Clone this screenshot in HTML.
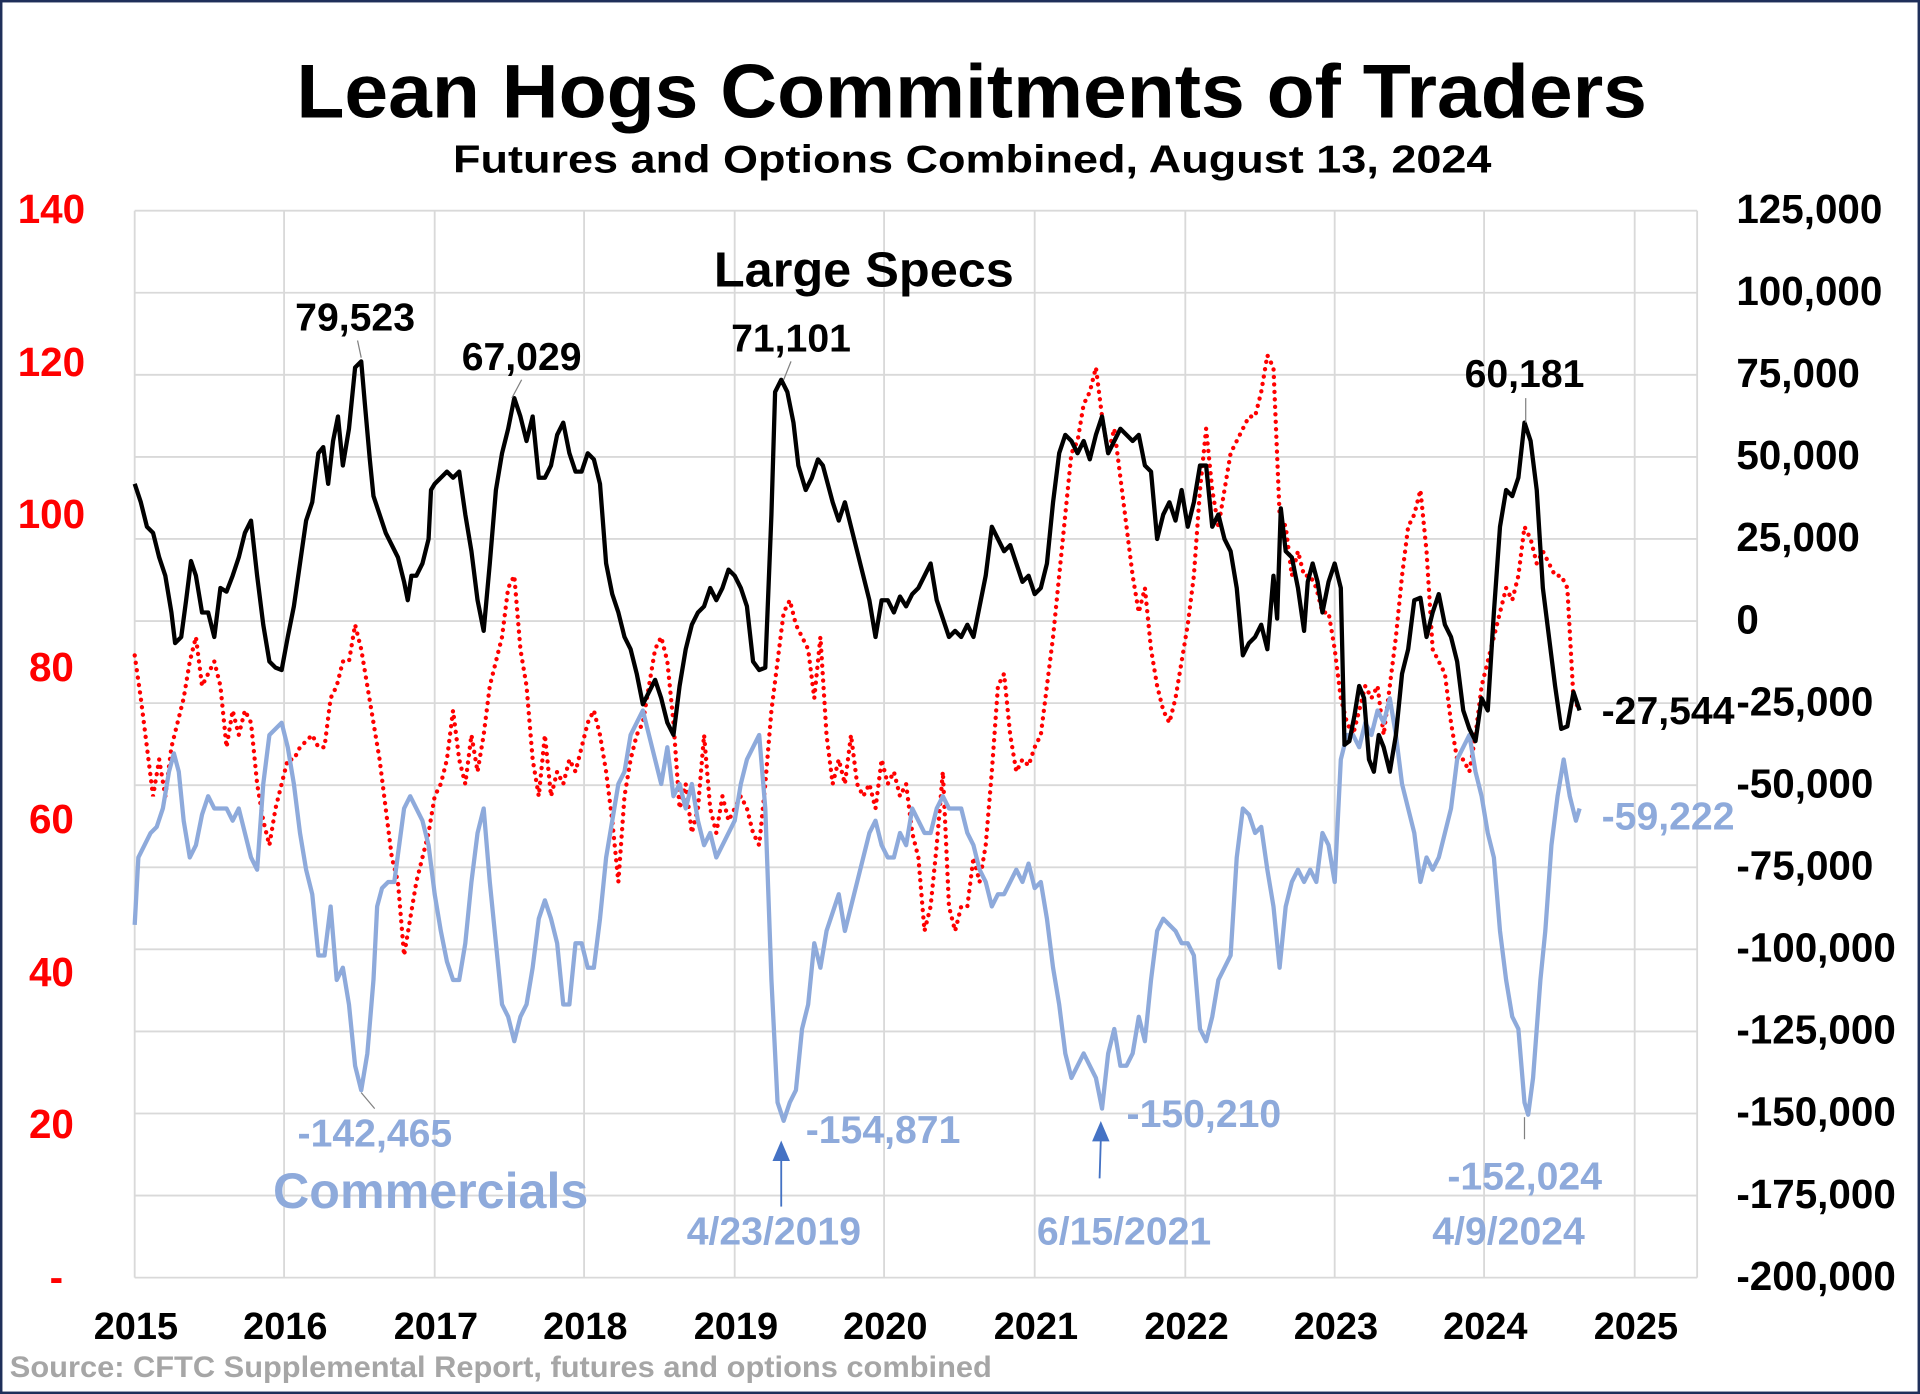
<!DOCTYPE html>
<html><head><meta charset="utf-8"><style>
html,body{margin:0;padding:0;background:#fff}
svg{display:block}
text{font-family:"Liberation Sans",Arial,sans-serif;font-weight:bold}
</style></head><body>
<svg width="1920" height="1394" viewBox="0 0 1568 1138" preserveAspectRatio="none" xmlns="http://www.w3.org/2000/svg">
<rect x="1" y="1" width="1566" height="1136" fill="#fff" stroke="#1f2f5a" stroke-width="2"/>
<text x="242" y="96" font-size="62" textLength="1103" lengthAdjust="spacingAndGlyphs">Lean Hogs Commitments of Traders</text>
<text x="370" y="141" font-size="32" textLength="848" lengthAdjust="spacingAndGlyphs">Futures and Options Combined, August 13, 2024</text>
<g stroke="#d9d9d9" stroke-width="1.5">
<line x1="110" y1="172" x2="1386" y2="172"/><line x1="110" y1="239" x2="1386" y2="239"/><line x1="110" y1="306" x2="1386" y2="306"/><line x1="110" y1="373" x2="1386" y2="373"/><line x1="110" y1="440" x2="1386" y2="440"/><line x1="110" y1="507" x2="1386" y2="507"/><line x1="110" y1="574" x2="1386" y2="574"/><line x1="110" y1="641" x2="1386" y2="641"/><line x1="110" y1="708" x2="1386" y2="708"/><line x1="110" y1="775" x2="1386" y2="775"/><line x1="110" y1="842" x2="1386" y2="842"/><line x1="110" y1="909" x2="1386" y2="909"/><line x1="110" y1="976" x2="1386" y2="976"/><line x1="110" y1="1043" x2="1386" y2="1043"/>
<line x1="110" y1="172" x2="110" y2="1043"/><line x1="232" y1="172" x2="232" y2="1043"/><line x1="355" y1="172" x2="355" y2="1043"/><line x1="477" y1="172" x2="477" y2="1043"/><line x1="600" y1="172" x2="600" y2="1043"/><line x1="722" y1="172" x2="722" y2="1043"/><line x1="845" y1="172" x2="845" y2="1043"/><line x1="968" y1="172" x2="968" y2="1043"/><line x1="1090" y1="172" x2="1090" y2="1043"/><line x1="1212" y1="172" x2="1212" y2="1043"/><line x1="1335" y1="172" x2="1335" y2="1043"/><line x1="1386" y1="172" x2="1386" y2="1043"/>
</g>
<g font-size="33" fill="#ff0000" text-anchor="middle">
<text x="42" y="182">140</text><text x="42" y="307">120</text><text x="42" y="431">100</text><text x="42" y="556">80</text><text x="42" y="680">60</text><text x="42" y="805">40</text><text x="42" y="929">20</text><text x="46" y="1054">-</text>
</g>
<g font-size="33" fill="#000">
<text x="1418" y="182">125,000</text><text x="1418" y="249">100,000</text><text x="1418" y="316">75,000</text><text x="1418" y="383">50,000</text><text x="1418" y="450">25,000</text><text x="1418" y="517">0</text><text x="1418" y="584">-25,000</text><text x="1418" y="651">-50,000</text><text x="1418" y="718">-75,000</text><text x="1418" y="785">-100,000</text><text x="1418" y="852">-125,000</text><text x="1418" y="919">-150,000</text><text x="1418" y="986">-175,000</text><text x="1418" y="1053">-200,000</text>
</g>
<g font-size="31" fill="#000" text-anchor="middle">
<text x="111" y="1093">2015</text><text x="233" y="1093">2016</text><text x="356" y="1093">2017</text><text x="478" y="1093">2018</text><text x="601" y="1093">2019</text><text x="723" y="1093">2020</text><text x="846" y="1093">2021</text><text x="969" y="1093">2022</text><text x="1091" y="1093">2023</text><text x="1213" y="1093">2024</text><text x="1336" y="1093">2025</text>
</g>
<text x="8" y="1124" font-size="24" fill="#a6a6a6" textLength="802" lengthAdjust="spacingAndGlyphs">Source: CFTC Supplemental Report, futures and options combined</text>

<polyline fill="none" stroke="#ff0000" stroke-width="3.5" stroke-dasharray="0.1 6" stroke-linecap="round" points="110,535 115,570 120,610 125,650 130,620 135,650 140,610 145,590 150,570 155,540 160,520 165,560 170,550 175,540 180,560 185,610 190,580 195,600 200,580 205,590 210,640 215,670 220,690 225,660 230,640 235,620 240,620 245,610 250,605 255,600 260,610 265,610 270,570 275,560 280,540 285,540 290,510 295,530 300,560 305,590 310,620 315,660 320,700 325,720 330,780 335,750 340,720 345,700 350,680 355,650 360,640 365,620 370,580 375,620 380,640 385,600 390,630 395,600 400,560 405,540 410,520 415,480 420,470 425,530 430,560 435,620 440,650 445,600 450,650 455,630 460,640 465,620 470,630 475,610 480,590 485,580 490,600 495,630 500,670 505,720 510,650 515,620 520,600 525,590 530,560 535,530 540,520 545,540 550,590 555,660 560,640 565,680 570,660 575,600 580,660 585,680 590,650 595,670 600,660 605,650 610,660 615,680 620,690 625,640 630,580 635,540 640,500 645,490 650,510 655,520 660,530 665,570 670,520 675,600 680,640 685,620 690,640 695,600 700,640 705,650 710,640 715,660 720,620 725,640 730,630 735,650 740,640 745,680 750,700 755,760 760,740 765,690 770,630 775,740 780,760 785,740 790,740 795,700 800,720 805,690 810,630 815,560 820,550 825,600 830,630 835,620 840,625 845,610 850,600 855,560 860,520 865,470 870,420 875,370 880,360 885,330 890,320 895,300 900,340 905,370 910,350 915,390 920,430 925,470 930,500 935,480 940,530 945,560 950,580 955,590 960,570 965,540 970,510 975,470 980,400 985,350 990,400 995,430 1000,400 1005,370 1010,360 1015,350 1020,340 1025,340 1030,320 1035,290 1040,300 1045,420 1050,430 1055,470 1060,450 1065,470 1070,470 1075,480 1080,500 1085,500 1090,530 1095,570 1100,590 1105,600 1110,580 1115,560 1120,570 1125,560 1130,600 1135,560 1140,520 1145,470 1150,430 1155,420 1160,400 1165,450 1170,530 1175,540 1180,550 1185,590 1190,620 1195,620 1200,630 1205,600 1210,560 1215,540 1220,520 1225,500 1230,480 1235,490 1240,470 1245,430 1250,440 1255,460 1260,450 1265,460 1270,470 1275,470 1280,480 1285,570 1290,580"/>

<polyline fill="none" stroke="#8eaadb" stroke-width="3.5" stroke-linejoin="round" points="110,755 113,700 118,690 123,680 128,675 133,660 138,630 142,615 146,630 150,670 155,700 160,690 165,665 170,650 175,660 180,660 185,660 190,670 195,660 200,680 205,700 210,710 215,640 220,600 225,595 230,590 235,610 240,640 245,680 250,710 255,730 260,780 265,780 270,740 275,800 280,790 285,820 290,870 295,890 300,860 305,800 308,740 312,725 317,720 322,720 326,690 330,660 335,650 340,660 345,670 350,690 355,730 360,760 365,785 370,800 375,800 380,770 385,720 390,680 395,660 400,720 405,770 410,820 415,830 420,850 425,830 430,820 435,790 440,750 445,735 450,750 455,770 460,820 465,820 470,770 475,770 480,790 485,790 490,750 495,700 500,670 505,640 510,630 515,600 520,590 525,580 530,600 535,620 540,640 545,610 550,650 555,640 560,660 565,640 570,670 575,690 580,680 585,700 590,690 595,680 600,670 605,640 610,620 615,610 620,600 625,660 630,800 635,900 640,915 645,900 650,890 655,840 660,820 665,770 670,790 675,760 680,745 685,730 690,760 695,740 700,720 705,700 710,680 715,670 720,690 725,700 730,700 735,680 740,690 745,660 750,670 755,680 760,680 765,660 770,650 775,660 780,660 785,660 790,680 795,690 800,710 805,720 810,740 815,730 820,730 825,720 830,710 835,720 840,705 845,725 850,720 855,750 860,790 865,820 870,860 875,880 880,870 885,860 890,870 895,880 900,905 905,860 910,840 915,870 920,870 925,860 930,830 935,850 940,800 945,760 950,750 955,755 960,760 965,770 970,770 975,780 980,840 985,850 990,830 995,800 1000,790 1005,780 1010,700 1015,660 1020,665 1025,680 1030,675 1035,710 1040,740 1045,790 1050,740 1055,720 1060,710 1065,720 1070,710 1075,720 1080,680 1085,690 1090,720 1095,620 1100,600 1105,600 1110,610 1115,590 1120,600 1125,580 1130,590 1135,570 1140,600 1145,640 1150,660 1155,680 1160,720 1165,700 1170,710 1175,700 1180,680 1185,660 1190,620 1195,610 1200,600 1205,630 1210,650 1215,680 1220,700 1225,760 1230,800 1235,830 1240,840 1245,900 1248,910 1252,880 1258,800 1262,760 1267,690 1272,650 1277,620 1282,650 1287,670 1290,660"/>

<polyline fill="none" stroke="#000" stroke-width="3.5" stroke-linejoin="round" points="110,395 115,410 120,430 125,435 130,455 135,470 140,500 143,525 148,520 152,490 156,458 160,470 165,500 170,500 175,520 180,480 185,483 190,470 195,455 200,435 205,425 210,470 215,510 220,540 225,545 230,547 235,520 240,495 245,460 250,425 255,410 260,370 264,365 268,395 272,360 276,340 280,380 285,350 290,300 295,295 298,330 302,375 305,405 310,420 315,435 320,445 325,455 330,475 333,490 336,470 340,470 345,460 350,440 352,400 355,395 360,390 365,385 370,390 375,385 380,420 385,450 390,490 395,515 400,460 405,400 410,370 415,350 420,325 425,340 430,360 435,340 440,390 445,390 450,380 455,355 460,345 465,370 470,385 475,385 480,370 485,375 490,395 495,460 500,485 505,500 510,520 515,530 520,550 525,575 530,565 535,555 540,570 545,590 550,600 555,560 560,530 565,510 570,500 575,495 580,480 585,490 590,480 595,465 600,470 605,480 610,495 615,540 620,547 625,545 630,420 633,320 638,310 643,320 648,345 652,380 658,400 663,390 668,375 672,380 676,395 680,410 685,425 690,410 695,430 700,450 705,470 710,490 715,520 720,490 725,490 730,500 735,487 740,495 745,485 750,480 755,470 760,460 765,490 770,505 775,520 780,515 785,520 790,510 795,520 800,495 805,470 810,430 815,440 820,450 825,445 830,460 835,475 840,470 845,485 850,480 855,460 860,410 865,370 870,355 875,360 880,370 885,360 890,375 895,355 900,340 905,370 910,360 915,350 920,355 925,360 930,355 935,380 940,385 945,440 950,420 955,410 960,425 965,400 970,430 975,410 980,380 985,380 990,430 995,420 1000,440 1005,450 1010,480 1015,535 1020,525 1025,520 1030,510 1035,530 1040,470 1043,505 1046,415 1050,450 1055,455 1060,480 1065,515 1068,475 1072,460 1076,475 1080,500 1085,475 1090,460 1095,480 1098,608 1102,605 1106,585 1110,560 1114,570 1118,620 1122,630 1126,600 1130,610 1135,630 1140,600 1145,550 1150,530 1155,490 1160,488 1165,520 1170,500 1175,485 1180,510 1185,520 1190,540 1195,580 1200,595 1205,605 1210,570 1215,580 1220,500 1225,430 1230,400 1235,405 1240,390 1245,345 1250,360 1255,400 1260,480 1265,520 1270,560 1275,595 1280,593 1285,565 1290,580"/>

<g fill="#000">
<text x="583" y="234" font-size="40" textLength="245" lengthAdjust="spacingAndGlyphs">Large Specs</text>
<text x="290" y="270" font-size="32" text-anchor="middle">79,523</text>
<text x="426" y="302" font-size="32" text-anchor="middle">67,029</text>
<text x="646" y="287" font-size="32" text-anchor="middle">71,101</text>
<text x="1245" y="316" font-size="32" text-anchor="middle">60,181</text>
<text x="1308" y="591" font-size="32">-27,544</text>
</g>
<g stroke="#808080" stroke-width="1">
<line x1="292" y1="278" x2="295" y2="292"/><line x1="426" y1="310" x2="418" y2="325"/><line x1="646" y1="295" x2="640" y2="310"/><line x1="1246" y1="325" x2="1246" y2="345"/>
<line x1="295" y1="892" x2="306" y2="905"/><line x1="1245" y1="912" x2="1245" y2="930"/>
</g>
<g fill="#8eaadb" font-size="32">
<text x="243" y="936">-142,465</text>
<text x="658" y="933">-154,871</text>
<text x="920" y="920">-150,210</text>
<text x="1182" y="971">-152,024</text>
<text x="1308" y="677">-59,222</text>
<text x="223" y="986" font-size="41">Commercials</text>
<text x="632" y="1016" text-anchor="middle">4/23/2019</text>
<text x="918" y="1016" text-anchor="middle">6/15/2021</text>
<text x="1232" y="1016" text-anchor="middle">4/9/2024</text>
</g>
<g stroke="#4472c4" stroke-width="1.5" fill="#4472c4">
<line x1="638" y1="985" x2="638" y2="945"/><polygon points="632,947 644,947 638,933"/>
<line x1="898" y1="962" x2="899" y2="930"/><polygon points="893,931 905,931 899,917"/>
</g>
</svg>
</body></html>
